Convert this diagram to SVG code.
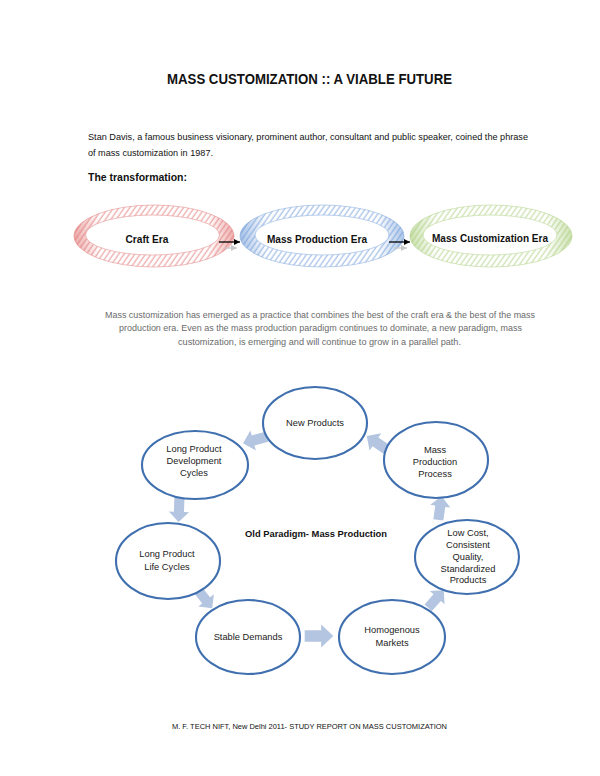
<svg xmlns="http://www.w3.org/2000/svg" width="600" height="776" viewBox="0 0 600 776">
<style>
.t{font-family:"Liberation Sans",Arial,sans-serif;fill:#111}
.b{font-weight:bold}
.p{font-size:8.6px}
.g{fill:#6a6a6a;font-size:8.2px}
.era{font-size:10.5px;font-weight:bold;text-anchor:middle;fill:#111}
.node ellipse{fill:#fff;stroke:#3f6fae;stroke-width:2.1}
.nt{font-family:"Liberation Sans",Arial,sans-serif;font-size:9.3px;fill:#222;text-anchor:middle}
.ba{fill:#b3c5e0}
</style>
<defs>
<pattern id="hr" width="4.4" height="10" patternUnits="userSpaceOnUse" patternTransform="rotate(35)"><line x1="1" y1="0" x2="1" y2="10" stroke="#e07070" stroke-width="0.8"/></pattern>
<pattern id="hb" width="4.4" height="10" patternUnits="userSpaceOnUse" patternTransform="rotate(35)"><line x1="1" y1="0" x2="1" y2="10" stroke="#6b98d6" stroke-width="0.8"/></pattern>
<pattern id="hg" width="4.4" height="10" patternUnits="userSpaceOnUse" patternTransform="rotate(35)"><line x1="1" y1="0" x2="1" y2="10" stroke="#a6cb77" stroke-width="0.8"/></pattern>
<linearGradient id="er" x1="0" x2="1" y1="0" y2="0"><stop offset="0" stop-color="#e07070" stop-opacity="0.6"/><stop offset="0.16" stop-color="#e07070" stop-opacity="0"/><stop offset="0.84" stop-color="#e07070" stop-opacity="0"/><stop offset="1" stop-color="#e07070" stop-opacity="0.55"/></linearGradient>
<linearGradient id="eb" x1="0" x2="1" y1="0" y2="0"><stop offset="0" stop-color="#6b98d6" stop-opacity="0.6"/><stop offset="0.16" stop-color="#6b98d6" stop-opacity="0"/><stop offset="0.84" stop-color="#6b98d6" stop-opacity="0"/><stop offset="1" stop-color="#6b98d6" stop-opacity="0.55"/></linearGradient>
<linearGradient id="eg" x1="0" x2="1" y1="0" y2="0"><stop offset="0" stop-color="#a6cb77" stop-opacity="0.6"/><stop offset="0.16" stop-color="#a6cb77" stop-opacity="0"/><stop offset="0.84" stop-color="#a6cb77" stop-opacity="0"/><stop offset="1" stop-color="#a6cb77" stop-opacity="0.55"/></linearGradient>
<marker id="ak" markerWidth="8" markerHeight="8" refX="6" refY="3" orient="auto" markerUnits="userSpaceOnUse"><path d="M0,0 L6,3 L0,6 Z" fill="#000"/></marker>
<marker id="ag" markerWidth="8" markerHeight="8" refX="6" refY="3" orient="auto" markerUnits="userSpaceOnUse"><path d="M0,0 L6,3 L0,6 Z" fill="#c8c8c8"/></marker>
<path id="blk" d="M-13,-5.5 H2 V-11 L13,0 L2,11 V5.5 H-13 Z"/>
</defs>
<rect width="600" height="776" fill="#fff"/>

<text class="t b" x="167" y="84" font-size="14" textLength="285" lengthAdjust="spacingAndGlyphs">MASS CUSTOMIZATION :: A VIABLE FUTURE</text>
<text class="t p" x="88" y="140" textLength="440" lengthAdjust="spacingAndGlyphs">Stan Davis, a famous business visionary, prominent author, consultant and public speaker, coined the phrase</text>
<text class="t p" x="88" y="156" textLength="125" lengthAdjust="spacingAndGlyphs">of mass customization in 1987.</text>
<text class="t b" x="88" y="181" font-size="11" textLength="99" lengthAdjust="spacingAndGlyphs">The transformation:</text>

<g id="craft-era">
<path d="M74,236 a80,31 0 1,0 160,0 a80,31 0 1,0 -160,0 Z M85.5,235 a67,20 0 1,0 134,0 a67,20 0 1,0 -134,0 Z" fill="url(#hr)" fill-rule="evenodd" stroke="#eaa0a0" stroke-width="0.7"/>
<path d="M74,236 a80,31 0 1,0 160,0 a80,31 0 1,0 -160,0 Z M85.5,235 a67,20 0 1,0 134,0 a67,20 0 1,0 -134,0 Z" fill="url(#er)" fill-rule="evenodd"/>
<text class="t era" x="147" y="243" textLength="43" lengthAdjust="spacingAndGlyphs">Craft Era</text>
</g>
<g id="mass-production-era">
<path d="M240,236 a82,31 0 1,0 164,0 a82,31 0 1,0 -164,0 Z M255,235 a67,20 0 1,0 134,0 a67,20 0 1,0 -134,0 Z" fill="url(#hb)" fill-rule="evenodd" stroke="#9dbbe6" stroke-width="0.7"/>
<path d="M240,236 a82,31 0 1,0 164,0 a82,31 0 1,0 -164,0 Z M255,235 a67,20 0 1,0 134,0 a67,20 0 1,0 -134,0 Z" fill="url(#eb)" fill-rule="evenodd"/>
<text class="t era" x="317" y="243" textLength="100" lengthAdjust="spacingAndGlyphs">Mass Production Era</text>
</g>
<g id="mass-customization-era">
<path d="M410,236 a81,31 0 1,0 162,0 a81,31 0 1,0 -162,0 Z M423,235 a67,20 0 1,0 134,0 a67,20 0 1,0 -134,0 Z" fill="url(#hg)" fill-rule="evenodd" stroke="#c3dda3" stroke-width="0.7"/>
<path d="M410,236 a81,31 0 1,0 162,0 a81,31 0 1,0 -162,0 Z M423,235 a67,20 0 1,0 134,0 a67,20 0 1,0 -134,0 Z" fill="url(#eg)" fill-rule="evenodd"/>
<text class="t era" x="490" y="242" textLength="116" lengthAdjust="spacingAndGlyphs">Mass Customization Era</text>
</g>

<g id="era-connectors">
<line x1="219" y1="242" x2="240" y2="242" stroke="#000" stroke-width="1.3" marker-end="url(#ak)"/>
<line x1="224" y1="248" x2="237" y2="248" stroke="#c8c8c8" stroke-width="1.3" marker-end="url(#ag)"/>
<line x1="389" y1="242" x2="410" y2="242" stroke="#000" stroke-width="1.3" marker-end="url(#ak)"/>
<line x1="394" y1="248" x2="407" y2="248" stroke="#c8c8c8" stroke-width="1.3" marker-end="url(#ag)"/>
</g>

<text class="t g" x="105" y="318" textLength="430" lengthAdjust="spacingAndGlyphs">Mass customization has emerged as a practice that combines the best of the craft era &amp; the best of the mass</text>
<text class="t g" x="119" y="331" textLength="403" lengthAdjust="spacingAndGlyphs">production era. Even as the mass production paradigm continues to dominate, a new paradigm, mass</text>
<text class="t g" x="178" y="345" textLength="283" lengthAdjust="spacingAndGlyphs">customization, is emerging and will continue to grow in a parallel path.</text>

<text class="t b" x="245" y="537" font-size="9.5" textLength="142" lengthAdjust="spacingAndGlyphs">Old Paradigm- Mass Production</text>

<g id="cycle-arrows">
<use href="#blk" class="ba" transform="translate(255,440) rotate(165) scale(0.95)"/>
<use href="#blk" class="ba" transform="translate(377,443) rotate(-146) scale(0.95)"/>
<use href="#blk" class="ba" transform="translate(179,510) rotate(92) scale(0.92)"/>
<use href="#blk" class="ba" transform="translate(205,599) rotate(52) scale(0.9)"/>
<use href="#blk" class="ba" transform="translate(319,636) scale(1.1,1.05)"/>
<use href="#blk" class="ba" transform="translate(436,599) rotate(-48) scale(0.9)"/>
<use href="#blk" class="ba" transform="translate(440,508) rotate(-82) scale(0.92)"/>
</g>

<g id="new-products" class="node">
<ellipse cx="315" cy="423" rx="52" ry="36"/>
<text class="nt" x="315" y="426">New Products</text>
</g>
<g id="long-product-development-cycles" class="node">
<ellipse cx="195" cy="465" rx="53" ry="34"/>
<text class="nt" x="194" y="452">Long Product</text>
<text class="nt" x="194" y="464">Development</text>
<text class="nt" x="194" y="476">Cycles</text>
</g>
<g id="mass-production-process" class="node">
<ellipse cx="436" cy="460" rx="52" ry="38"/>
<text class="nt" x="435" y="453">Mass</text>
<text class="nt" x="435" y="465">Production</text>
<text class="nt" x="435" y="477">Process</text>
</g>
<g id="long-product-life-cycles" class="node">
<ellipse cx="168" cy="561" rx="52" ry="38"/>
<text class="nt" x="167" y="557">Long Product</text>
<text class="nt" x="167" y="570">Life Cycles</text>
</g>
<g id="stable-demands" class="node">
<ellipse cx="248" cy="637" rx="52" ry="37"/>
<text class="nt" x="248" y="640">Stable Demands</text>
</g>
<g id="homogenous-markets" class="node">
<ellipse cx="392" cy="637" rx="53" ry="37"/>
<text class="nt" x="392" y="633">Homogenous</text>
<text class="nt" x="392" y="646">Markets</text>
</g>
<g id="low-cost" class="node">
<ellipse cx="467" cy="557" rx="52" ry="37"/>
<text class="nt" x="468" y="536">Low Cost,</text>
<text class="nt" x="468" y="548">Consistent</text>
<text class="nt" x="468" y="560">Quality,</text>
<text class="nt" x="468" y="572">Standardized</text>
<text class="nt" x="468" y="583">Products</text>
</g>

<text class="t" x="172" y="729" font-size="7.4" fill="#333" textLength="275" lengthAdjust="spacingAndGlyphs">M. F. TECH NIFT, New Delhi 2011- STUDY REPORT ON MASS CUSTOMIZATION</text>
</svg>
